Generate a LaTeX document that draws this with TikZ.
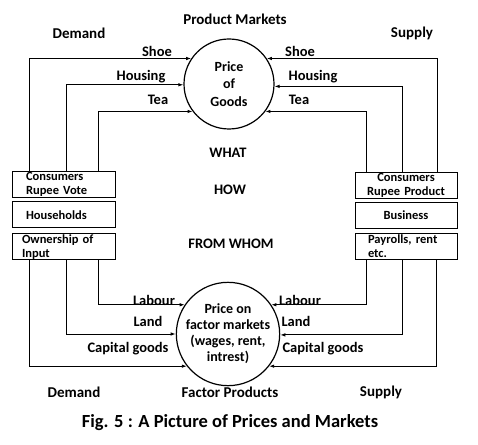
\documentclass[tikz,border=0pt]{standalone}
\usepackage{fontspec}
\setmainfont{Carlito}
\usetikzlibrary{positioning,arrows.meta}

\tikzset{
  market/.style={draw, circle, line width=1.2pt, minimum size=90pt, inner sep=0pt, align=center},
  box/.style={draw, line width=0.9pt, minimum height=26pt, inner ysep=0pt, font=\bfseries\fontsize{12.5}{14}\selectfont},
  flow/.style={line width=0.9pt, -{Latex[length=5pt,width=3.5pt]}},
  heading/.style={font=\bfseries\fontsize{15}{18}\selectfont},
}

\begin{document}
\begin{tikzpicture}[x=1pt, y=1pt, every node/.style={font=\bfseries\fontsize{14.5}{17}\selectfont}]
\useasboundingbox (0,0) rectangle (478,444);

% the two markets
\node[market, font=\bfseries\fontsize{14}{17.5}\selectfont] (goods) at (229,360) {Price\\of\\Goods};
\node[market, font=\bfseries\fontsize{14}{16}\selectfont] (factor) at (228,110) {Price on\\factor markets\\(wages, rent,\\intrest)};

% households side
\node[box, inner xsep=14pt, text width=75pt, align=left] (vote) at (63.5,260) {Consumers\\Rupee Vote};
\node[box, inner xsep=14pt, text width=75pt, align=left, below=4pt of vote] (households) {Households};
\node[box, inner xsep=10pt, text width=83pt, align=left, below=5pt of households] (owner) {Ownership of\\Input};

% business side
\node[box, inner xsep=5pt, text width=92pt, align=center] (product) at (406,258.5) {Consumers\\Rupee Product};
\node[box, inner xsep=5pt, text width=92pt, align=center, below=3pt of product] (business) {Business};
\node[box, inner xsep=13pt, text width=76pt, align=left, below=4pt of business] (payrolls) {Payrolls, rent\\etc.};

% product flows
\draw[flow] ([xshift=18pt]vote.north west) |- (goods.146);
\draw[flow] ([xshift=55pt]vote.north west) |- (goods.181);
\draw[flow] ([xshift=87pt]vote.north west) |- (goods.217);
\draw[flow] ([xshift=83pt]product.north west) |- (goods.34);
\draw[flow] ([xshift=48pt]product.north west) |- (goods.357);
\draw[flow] ([xshift=12pt]product.north west) |- (goods.323);

% factor flows
\draw[flow] ([xshift=87pt]owner.south west) |- (factor.146);
\draw[flow] ([xshift=55pt]owner.south west) |- (factor.180);
\draw[flow] ([xshift=18pt]owner.south west) |- (factor.218);
\draw[flow] ([xshift=12pt]payrolls.south west) |- (factor.34);
\draw[flow] ([xshift=48pt]payrolls.south west) |- (factor.359);
\draw[flow] ([xshift=82pt]payrolls.south west) |- (factor.322);

% labels
\node[heading] (pmarkets) at (235,425) {Product Markets};
\node[heading] (demandtop) at (79,411) {Demand};
\node[heading] (supplytop) at (412,411) {Supply};
\node (shoel) at (157,393) {Shoe};
\node (shoer) at (300,393) {Shoe};
\node (housingl) at (141,367) {Housing};
\node (housingr) at (313,367) {Housing};
\node (teal) at (158,344) {Tea};
\node (tear) at (299,344) {Tea};
\node (what) at (228,291) {WHAT};
\node (how) at (230,254) {HOW};
\node (whom) at (231,200) {FROM WHOM};
\node (labourl) at (154,144) {Labour};
\node (labourr) at (300,144) {Labour};
\node (landl) at (148,123) {Land};
\node (landr) at (296,123) {Land};
\node (capitall) at (128,95) {Capital goods};
\node (capitalr) at (323,95) {Capital goods};
\node[heading] (demandbot) at (74,52) {Demand};
\node[heading] (fproducts) at (230,52) {Factor Products};
\node[heading] (supplybot) at (381,52) {Supply};
\node[font=\bfseries\fontsize{18.5}{22}\selectfont] (caption) at (230,21) {Fig. 5 : A Picture of Prices and Markets};
\end{tikzpicture}
\end{document}
